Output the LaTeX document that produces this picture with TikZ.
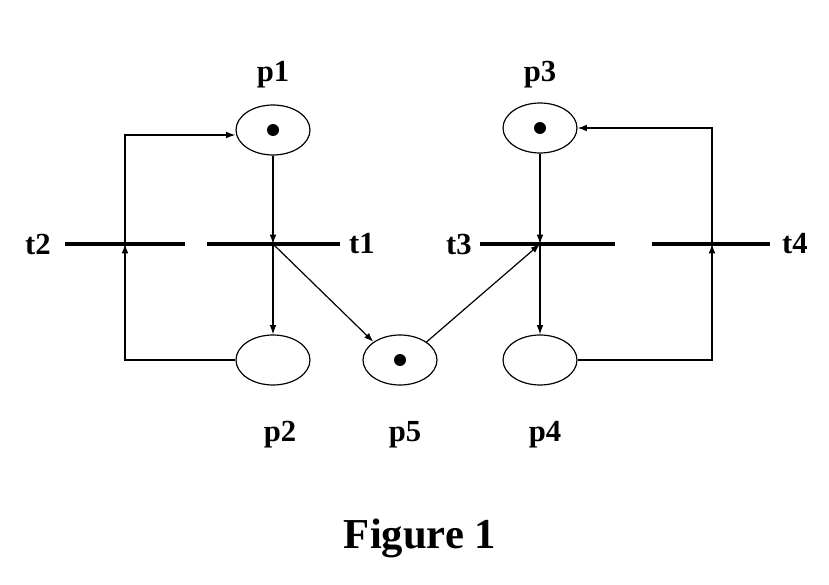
\documentclass[tikz,border=0pt]{standalone}
\usepackage{fontspec}
\setmainfont{Liberation Serif}
\usetikzlibrary{arrows.meta,shapes.geometric}
\begin{document}
\begin{tikzpicture}[x=0.75pt,y=-0.75pt,
 place/.style={draw,ellipse,line width=0.9pt,minimum width=55.5pt,minimum height=37.5pt,inner sep=0pt},
 trans/.style={line width=3pt},
 arc/.style={line width=0.9pt,-{Latex[length=7pt,width=5pt]}},
 lab/.style={font=\bfseries\fontsize{23}{26}\selectfont},
 tok/.style={fill,circle,inner sep=0pt,minimum size=9pt}]
\useasboundingbox (0,0) rectangle (829,585);
\node[place] (p1) at (273,130) {};
\node[place] (p3) at (540,128) {};
\node[place] (p2) at (273,360) {};
\node[place] (p5) at (400,360) {};
\node[place] (p4) at (540,360) {};
\node[tok] at (p1) {};
\node[tok] at (p3) {};
\node[tok] at (p5) {};
\coordinate (t2l) at (65,244); \coordinate (t2r) at (185,244);
\coordinate (t1l) at (207,244); \coordinate (t1r) at (340,244);
\coordinate (t3l) at (480,244); \coordinate (t3r) at (615,244);
\coordinate (t4l) at (652,244); \coordinate (t4r) at (770,244);
\draw[trans] (t2l) -- (t2r);
\draw[trans] (t1l) -- (t1r);
\draw[trans] (t3l) -- (t3r);
\draw[trans] (t4l) -- (t4r);
\coordinate (t1) at (273,244);
\coordinate (t2) at (125,244);
\coordinate (t3) at (540,244);
\coordinate (t4) at (712,244);
\node[lab] (lt2) at (38,244) {t2};
\node[lab] (lt1) at (362,244) {t1};
\node[lab] (lt3) at (459,244) {t3};
\node[lab] (lt4) at (795,244) {t4};
\node[lab] (lp1) at (273,75) {p1};
\node[lab] (lp3) at (540,75) {p3};
\node[lab] (lp2) at (280,435) {p2};
\node[lab] (lp5) at (405,435) {p5};
\node[lab] (lp4) at (545,435) {p4};
\node[font=\bfseries\fontsize{32}{36}\selectfont] (fig) at (420,538) {Figure 1};
\draw[arc] (p1) -- (t1);
\draw[arc] (t1) -- (p2);
\draw[arc] (t1) -- (p5.north west);
\draw[arc] (p5.north east) -- (t3);
\draw[arc] (p3) -- (t3);
\draw[arc] (t3) -- (p4);
\draw[arc] (p4.east) -- (712,360) -- (t4);
\draw[arc] (t4) -- (712,128) -- (p3.east);
\draw[arc] (p2.west) -- (125,360) -- (t2);
\draw[arc] (t2) -- (125,135) -- (p1.west |- 0,135);
\end{tikzpicture}
\end{document}
